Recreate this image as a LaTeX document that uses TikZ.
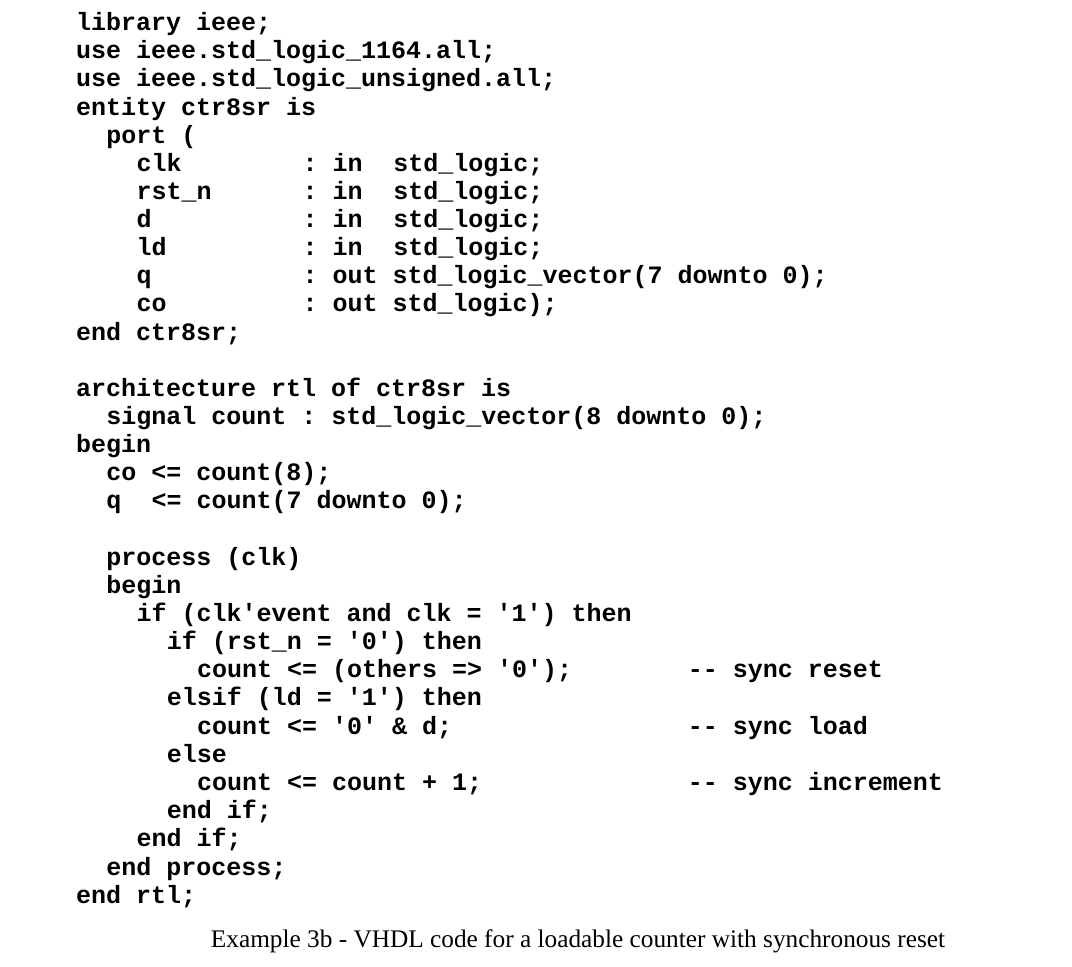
\documentclass[tikz,border=0pt]{standalone}
\usepackage{fontspec}
\setmainfont{Liberation Serif}
\setmonofont{Liberation Mono}
\newcommand\cl[3]{\node[code] at ({76+#1*15.1},{#2+8}) {#3};}
\begin{document}
\begin{tikzpicture}[x=1pt,y=-1pt,code/.style={anchor=base west,inner sep=0pt,font=\fontsize{25}{28}\selectfont\ttfamily\bfseries}]
\useasboundingbox (0,0) rectangle (1072,967);
\cl{0}{22}{library ieee;}
\cl{0}{50}{use ieee.std\_logic\_1164.all;}
\cl{0}{78}{use ieee.std\_logic\_unsigned.all;}
\cl{0}{107}{entity ctr8sr is}
\cl{2}{135}{port (}
\cl{4}{163}{clk}\cl{15}{163}{: in}\cl{21}{163}{std\_logic;}
\cl{4}{191}{rst\_n}\cl{15}{191}{: in}\cl{21}{191}{std\_logic;}
\cl{4}{219}{d}\cl{15}{219}{: in}\cl{21}{219}{std\_logic;}
\cl{4}{247}{ld}\cl{15}{247}{: in}\cl{21}{247}{std\_logic;}
\cl{4}{275}{q}\cl{15}{275}{: out std\_logic\_vector(7 downto 0);}
\cl{4}{303}{co}\cl{15}{303}{: out std\_logic);}
\cl{0}{332}{end ctr8sr;}
\cl{0}{388}{architecture rtl of ctr8sr is}
\cl{2}{416}{signal count : std\_logic\_vector(8 downto 0);}
\cl{0}{444}{begin}
\cl{2}{472}{co <= count(8);}
\cl{2}{500}{q}\cl{5}{500}{<= count(7 downto 0);}
\cl{2}{557}{process (clk)}
\cl{2}{585}{begin}
\cl{4}{613}{if (clk'event and clk = '1') then}
\cl{6}{641}{if (rst\_n = '0') then}
\cl{8}{669}{count <= (others => '0');}\cl{40.5}{669}{-{}- sync reset}
\cl{6}{697}{elsif (ld = '1') then}
\cl{8}{726}{count <= '0' \& d;}\cl{40.5}{726}{-{}- sync load}
\cl{6}{754}{else}
\cl{8}{782}{count <= count + 1;}\cl{40.5}{782}{-{}- sync increment}
\cl{6}{810}{end if;}
\cl{4}{838}{end if;}
\cl{2}{867}{end process;}
\cl{0}{895}{end rtl;}
\node[font=\fontsize{25.3}{29}\selectfont,inner sep=0pt] (cap) at (578,941) {Example 3b - VHDL code for a loadable counter with synchronous reset};
\end{tikzpicture}
\end{document}
